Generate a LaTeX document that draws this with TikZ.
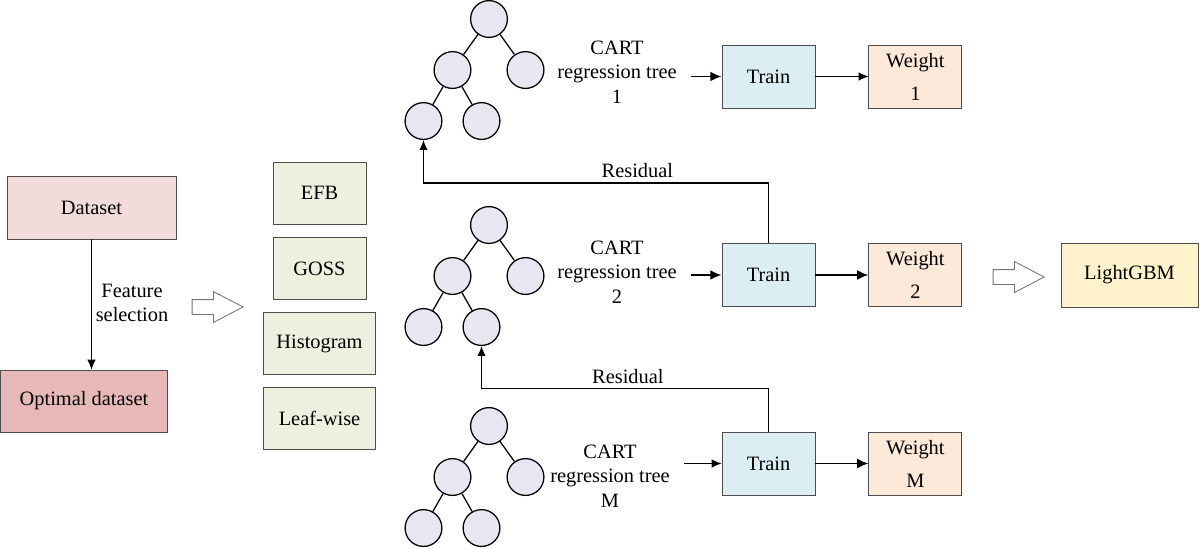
\documentclass[tikz,border=0pt]{standalone}
\usepackage{fontspec}
\setmainfont{Liberation Serif}
\usetikzlibrary{positioning,shapes.arrows,arrows.meta}
\definecolor{datafill}{HTML}{F2DCDB}
\definecolor{optfill}{HTML}{E6B9B8}
\definecolor{featfill}{HTML}{EBF1DE}
\definecolor{trainfill}{HTML}{DAEEF3}
\definecolor{weightfill}{HTML}{FDE9D9}
\definecolor{lgbfill}{HTML}{FFF2CC}
\definecolor{leaffill}{HTML}{E8E6F0}
\begin{document}
\begin{tikzpicture}[x=0.025cm,y=-0.025cm,
  font=\fontsize{14.5}{17.5}\selectfont,
  box/.style={draw=black!70,line width=0.6pt,minimum width=2.325cm,minimum height=1.575cm,align=center,inner sep=1pt},
  leaf/.style={circle,draw=black,line width=0.9pt,fill=leaffill,minimum size=0.92cm,inner sep=0pt},
  every child node/.style={leaf},
  edge from parent/.style={draw,line width=0.9pt},
  level distance=1.275cm,
  level 1/.style={sibling distance=1.825cm},
  level 2/.style={sibling distance=1.45cm},
  lbl/.style={align=center,inner sep=0.35cm},
  arr/.style={-{Latex[length=7pt,width=6pt]},line width=0.6pt},
  thickarr/.style={-{Latex[length=8pt,width=7pt]},line width=1.3pt},
  hollow/.style={single arrow,draw=black!55,line width=0.6pt,fill=white,minimum height=1.275cm,inner xsep=0pt,inner ysep=0.175cm,single arrow head extend=0.2cm,single arrow tip angle=55}]
\useasboundingbox (0,0) rectangle (1200,548);

% data preparation
\node[box,fill=datafill,minimum width=4.225cm] (dataset) at (91.5,207.5) {Dataset};
\node[box,fill=optfill,minimum width=4.175cm,minimum height=1.55cm] (optimal) at (84,401) {Optimal dataset};
\draw[arr] (dataset.south) -- (dataset.south |- optimal.north);
\node[align=center] (fsel) at (132,303) {Feature\\selection};
\node[hollow] (harr1) at (210.5,307) {};

% lightgbm features
\node[box,fill=featfill,minimum height=1.55cm] (efb) at (319.5,193) {EFB};
\node[box,fill=featfill,minimum height=1.55cm,below=0.325cm of efb] (goss) {GOSS};
\node[box,fill=featfill,minimum height=1.55cm,minimum width=2.8cm,below=0.3cm of goss] (hist) {Histogram};
\node[box,fill=featfill,minimum height=1.55cm,minimum width=2.8cm,below=0.3cm of hist] (leafw) {Leaf-wise};

% regression trees
\node[leaf] (t1) at (489,19) {}
child {node {}
  child {node {}}
  child {node {}}
}
child {node {}};
\node[leaf] (t2) at (489,225) {}
child {node {}
  child {node {}}
  child {node {}}
}
child {node {}};
\node[leaf] (tm) at (489,426) {}
child {node {}
  child {node {}}
  child {node {}}
}
child {node {}};

\node[lbl] (cart1) at (617,72) {CART\\regression tree\\1};
\node[lbl] (cart2) at (617,272) {CART\\regression tree\\2};
\node[lbl] (cartm) at (610,476) {CART\\regression tree\\M};

% training
\node[box,fill=trainfill] (train1) at (768.5,76.5) {Train};
\node[box,fill=trainfill] (train2) at (768.5,275) {Train};
\node[box,fill=trainfill] (trainm) at (768.5,463.5) {Train};
\node[box,fill=weightfill,right=1.325cm of train1] (weight1) {Weight\\[6pt]1};
\node[box,fill=weightfill,right=1.325cm of train2] (weight2) {Weight\\[6pt]2};
\node[box,fill=weightfill,right=1.325cm of trainm] (weightm) {Weight\\[6pt]M};

\draw[thickarr] (cart1.east |- train1.west) -- (train1.west);
\draw[thickarr] (cart2.east |- train2.west) -- (train2.west);
\draw[arr] (cartm.east |- trainm.west) -- (trainm.west);
\draw[arr] (train1) -- (weight1);
\draw[thickarr] (train2) -- (weight2);
\draw[thickarr] (trainm) -- (weightm);

% residuals
\draw[arr,line width=0.9pt] (train2.north) -- ++(0,-60) -| node[above,pos=0.19] (res1) {Residual} (t1-1-1.south);
\draw[arr,line width=0.9pt] (trainm.north) -- ++(0,-43) -| node[above,pos=0.245] (res2) {Residual} (t2-1-2.south);

% result
\node[hollow] (harr2) at (1011.5,277) {};
\node[box,fill=lgbfill,minimum width=3.425cm,minimum height=1.6cm] (lgbm) at (1129.5,275) {LightGBM};
\end{tikzpicture}
\end{document}
